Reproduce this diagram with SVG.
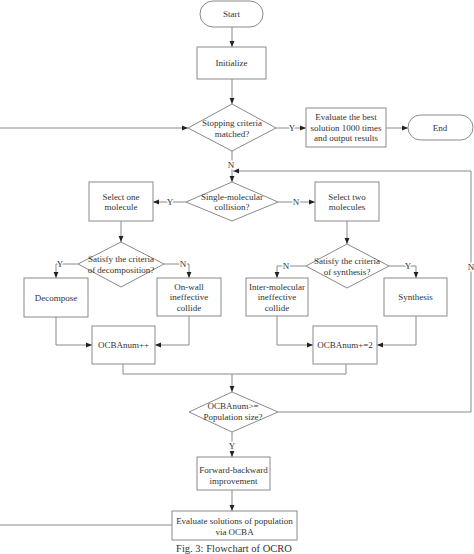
<svg xmlns="http://www.w3.org/2000/svg" width="474" height="554" viewBox="0 0 474 554">
<defs>
<style>
.n{fill:#fff;stroke:#8a8a8a;stroke-width:1}
.t{font-family:"Liberation Serif","Times New Roman",serif;font-size:9px;fill:#333;text-anchor:middle;dominant-baseline:central}
.c{fill:none;stroke:#8a8a8a;stroke-width:1}
.l{font-family:"Liberation Serif","Times New Roman",serif;font-size:9px;fill:#333;text-anchor:middle;dominant-baseline:central;stroke:#fff;stroke-width:3;paint-order:stroke}
.cap{font-family:"Liberation Serif","Times New Roman",serif;font-size:10.5px;fill:#333;text-anchor:middle}
</style>
<marker id="a" viewBox="0 0 10 10" refX="10" refY="5" markerWidth="6" markerHeight="6" orient="auto" markerUnits="userSpaceOnUse"><path d="M0,1 L10,5 L0,9 Z" fill="#222"/></marker>
</defs>
<rect width="474" height="554" fill="#fff"/>
<g id="connectors">
<path class="c" d="M232,27 V47" marker-end="url(#a)"/>
<path class="c" d="M232,79 V104" marker-end="url(#a)"/>
<path class="c" d="M276,128 H306" marker-end="url(#a)"/>
<path class="c" d="M386,128 H408" marker-end="url(#a)"/>
<path class="c" d="M172,525 H-5 V128 H188" marker-end="url(#a)"/>
<path class="c" d="M232,151 V182" marker-end="url(#a)"/>
<path class="c" d="M278,412 H471 V171 H233" marker-end="url(#a)"/>
<path class="c" d="M186,202 H153" marker-end="url(#a)"/>
<path class="c" d="M278,202 H315" marker-end="url(#a)"/>
<path class="c" d="M121,221 V242" marker-end="url(#a)"/>
<path class="c" d="M347,221 V244" marker-end="url(#a)"/>
<path class="c" d="M78,264 H56 V278" marker-end="url(#a)"/>
<path class="c" d="M164,264 H189 V278" marker-end="url(#a)"/>
<path class="c" d="M306,266 H277 V278" marker-end="url(#a)"/>
<path class="c" d="M389,266 H416 V278" marker-end="url(#a)"/>
<path class="c" d="M56,317 V345 H92" marker-end="url(#a)"/>
<path class="c" d="M189,316 V345 H155" marker-end="url(#a)"/>
<path class="c" d="M277,316 V345 H313" marker-end="url(#a)"/>
<path class="c" d="M416,316 V345 H377" marker-end="url(#a)"/>
<path class="c" d="M123,364 V374 H346 V364"/>
<path class="c" d="M232,374 V392" marker-end="url(#a)"/>
<path class="c" d="M232,432 V457" marker-end="url(#a)"/>
<path class="c" d="M232,490 V511" marker-end="url(#a)"/>
<text class="l" x="292" y="128">Y</text>
<text class="l" x="231" y="165">N</text>
<text class="l" x="170" y="202">Y</text>
<text class="l" x="296" y="202">N</text>
<text class="l" x="60" y="264">Y</text>
<text class="l" x="183" y="264">N</text>
<text class="l" x="286" y="266">N</text>
<text class="l" x="408" y="266">Y</text>
<text class="l" x="471" y="267">N</text>
<text class="l" x="232" y="446">Y</text>
</g>
<g id="start"><rect class="n" x="200" y="1" width="63" height="26" rx="13"/><text class="t" x="231.5" y="14">Start</text></g>
<g id="initialize"><rect class="n" x="197" y="47" width="69" height="32"/><text class="t" x="231.5" y="63">Initialize</text></g>
<g id="stopping"><polygon class="n" points="232,104 276,128 232,151 188,128"/><text class="t" x="232" y="123">Stopping criteria</text><text class="t" x="232" y="134">matched?</text></g>
<g id="evaluate-best"><rect class="n" x="306" y="108" width="80" height="39"/><text class="t" x="346" y="117">Evaluate  the best</text><text class="t" x="346" y="128">solution 1000 times</text><text class="t" x="346" y="138">and output results</text></g>
<g id="end"><rect class="n" x="408" y="115" width="65" height="25" rx="12.5"/><text class="t" x="440" y="128">End</text></g>
<g id="single"><polygon class="n" points="232,182 278,202 232,221 186,202"/><text class="t" x="232" y="197">Single-molecular</text><text class="t" x="232" y="207">collision?</text></g>
<g id="select-one"><rect class="n" x="89" y="182" width="64" height="39"/><text class="t" x="121" y="197">Select one</text><text class="t" x="121" y="207">molecule</text></g>
<g id="select-two"><rect class="n" x="315" y="182" width="64" height="39"/><text class="t" x="347" y="197">Select two</text><text class="t" x="347" y="207">molecules</text></g>
<g id="decomp-criteria"><polygon class="n" points="121,242 164,264 121,287 78,264"/><text class="t" x="121" y="259">Satisfy the criteria</text><text class="t" x="121" y="270">of decomposition?</text></g>
<g id="synth-criteria"><polygon class="n" points="347,244 389,266 347,288 306,266"/><text class="t" x="347" y="261">Satisfy the criteria</text><text class="t" x="347" y="272">of synthesis?</text></g>
<g id="decompose"><rect class="n" x="24" y="278" width="64" height="39"/><text class="t" x="56" y="298">Decompose</text></g>
<g id="on-wall"><rect class="n" x="157" y="278" width="64" height="38"/><text class="t" x="189" y="287">On-wall</text><text class="t" x="189" y="297">ineffective</text><text class="t" x="189" y="308">collide</text></g>
<g id="inter-molecular"><rect class="n" x="246" y="278" width="62" height="38"/><text class="t" x="277" y="287">Inter-molecular</text><text class="t" x="277" y="297">ineffective</text><text class="t" x="277" y="308">collide</text></g>
<g id="synthesis"><rect class="n" x="384" y="278" width="63" height="38"/><text class="t" x="415.5" y="297">Synthesis</text></g>
<g id="ocba-inc"><rect class="n" x="92" y="326" width="63" height="38"/><text class="t" x="123.5" y="345">OCBAnum++</text></g>
<g id="ocba-add2"><rect class="n" x="313" y="326" width="64" height="38"/><text class="t" x="345" y="345">OCBAnum+=2</text></g>
<g id="pop-check"><polygon class="n" points="232,392 278,412 232,432 189,412"/><text class="t" x="233" y="406">OCBAnum&gt;=</text><text class="t" x="233" y="417">Population size?</text></g>
<g id="forward"><rect class="n" x="197" y="457" width="73" height="33"/><text class="t" x="233.5" y="470">Forward-backward</text><text class="t" x="233.5" y="481">improvement</text></g>
<g id="evaluate-pop"><rect class="n" x="172" y="511" width="125" height="29"/><text class="t" x="234.5" y="521">Evaluate solutions of population</text><text class="t" x="234.5" y="532">via OCBA</text></g>
<text class="cap" x="234" y="552">Fig. 3: Flowchart of OCRO</text>
</svg>
